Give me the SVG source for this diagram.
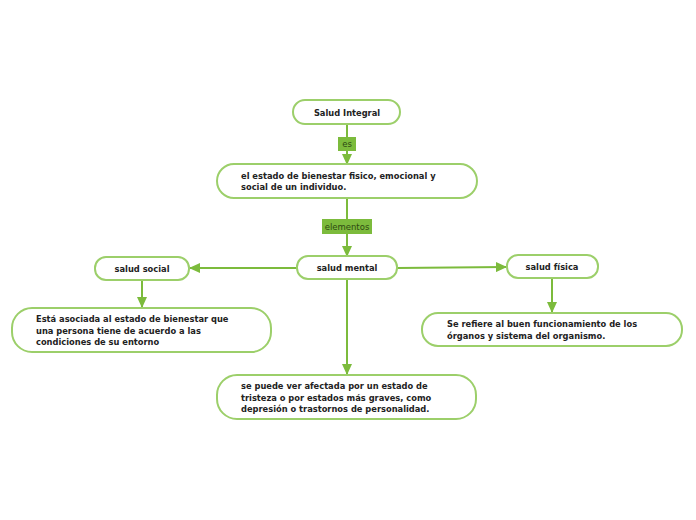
<svg xmlns="http://www.w3.org/2000/svg" width="696" height="520" viewBox="0 0 696 520">
<style>
.n{fill:#fff;stroke:#9ccf6a;stroke-width:2}
.t{font-family:"DejaVu Sans",sans-serif;font-weight:bold;font-size:8.3px;fill:#222}
.c{stroke:#7cbb3c;stroke-width:2;fill:none;marker-end:url(#a)}
.lb{fill:#7cbb3c}
.lt{font-family:"DejaVu Sans",sans-serif;font-size:8.5px;fill:#2e4a12}
</style>
<defs><marker id="a" markerWidth="12" markerHeight="10" refX="10" refY="5" orient="auto" markerUnits="userSpaceOnUse"><path d="M0,0L11,5L0,10z" fill="#7cbb3c"/></marker></defs>
<rect width="696" height="520" fill="#fff"/>
<g id="connectors">
<path class="c" d="M347,124V164"/>
<path class="c" d="M347,198V256"/>
<path class="c" d="M297,268H190"/>
<path class="c" d="M397,268L506,267"/>
<path class="c" d="M142,280V307"/>
<path class="c" d="M552,278V312"/>
<path class="c" d="M347,279V374"/>
<rect class="lb" x="338" y="137" width="18" height="14"/>
<text class="lt" x="347" y="147" text-anchor="middle">es</text>
<rect class="lb" x="322" y="219" width="50" height="15"/>
<text class="lt" x="347" y="230" text-anchor="middle">elementos</text>
</g>
<g id="integral"><rect class="n" x="293" y="100" width="107" height="24" rx="12"/><text class="t" x="347" y="116" text-anchor="middle">Salud Integral</text></g>
<g id="estado"><rect class="n" x="217" y="164" width="260" height="34" rx="17"/><text class="t" x="241" y="179">el estado de bienestar fisico, emocional y</text><text class="t" x="241" y="190">social de un individuo.</text></g>
<g id="mental"><rect class="n" x="297" y="256" width="100" height="23" rx="11"/><text class="t" x="347" y="271" text-anchor="middle">salud mental</text></g>
<g id="social"><rect class="n" x="95" y="257" width="94" height="23" rx="11"/><text class="t" x="142" y="272" text-anchor="middle">salud social</text></g>
<g id="fisica"><rect class="n" x="507" y="255" width="91" height="23" rx="11"/><text class="t" x="552" y="270" text-anchor="middle">salud física</text></g>
<g id="socialdesc"><rect class="n" x="12" y="308" width="259" height="44" rx="20"/><text class="t" x="36" y="322">Está asociada al estado de bienestar que</text><text class="t" x="36" y="333.5">una persona tiene de acuerdo a las</text><text class="t" x="36" y="345">condiciones de su entorno</text></g>
<g id="fisicadesc"><rect class="n" x="422" y="313" width="260" height="33" rx="16"/><text class="t" x="447" y="327">Se refiere al buen funcionamiento de los</text><text class="t" x="447" y="339">órganos y sistema del organismo.</text></g>
<g id="mentaldesc"><rect class="n" x="217" y="375" width="259" height="44" rx="20"/><text class="t" x="241" y="389">se puede ver afectada por un estado de</text><text class="t" x="241" y="400.5">tristeza o por estados más graves, como</text><text class="t" x="241" y="412">depresión o trastornos de personalidad.</text></g>
</svg>
